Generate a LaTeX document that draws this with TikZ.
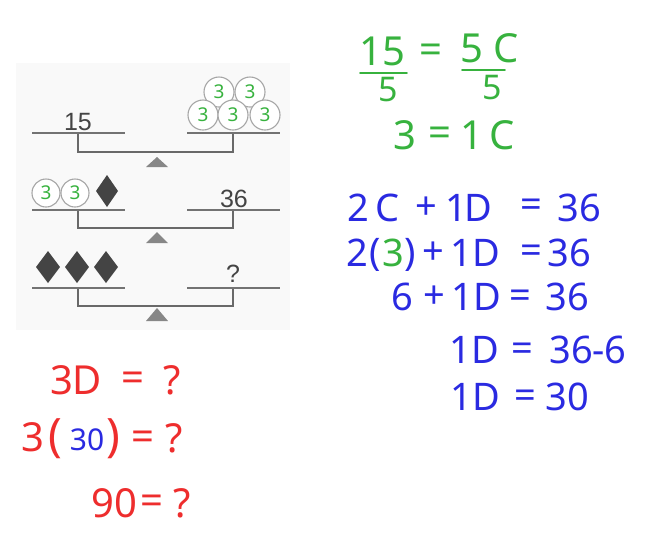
\documentclass[tikz,border=0pt]{standalone}
\usepackage{fontspec}
\setmainfont{Noto Sans}
\newfontfamily\arialf{Liberation Sans}
\definecolor{hgreen}{RGB}{55,178,62}
\definecolor{hblue}{RGB}{42,42,225}
\definecolor{hred}{RGB}{238,45,45}
\definecolor{sgray}{RGB}{105,105,105}
\definecolor{pangray}{RGB}{115,115,115}
\definecolor{trigray}{RGB}{135,135,135}
\definecolor{dgray}{RGB}{68,68,68}
\definecolor{bggray}{RGB}{249,249,249}
\tikzset{
  pan/.style={draw=pangray, line width=2.8pt},
  beam/.style={draw=sgray, line width=1.8pt},
  fulcrum/.style={fill=trigray},
  ball/.style={circle, draw=gray!70, line width=1.1pt, fill=white, minimum size=30pt, inner sep=0pt, text=hgreen, font=\fontsize{19}{19}\selectfont},
  sball/.style={ball, minimum size=28pt},
  dia/.style={fill=dgray},
  lbl/.style={inner sep=0pt, text=dgray, font=\arialf\fontsize{25}{25}\selectfont},
  hg/.style={inner sep=0pt, text=hgreen, font=\fontsize{40}{40}\selectfont},
  hgs/.style={hg, font=\fontsize{34}{34}\selectfont},
  hb/.style={inner sep=0pt, text=hblue, font=\fontsize{38}{38}\selectfont},
  hr/.style={inner sep=0pt, text=hred, font=\fontsize{40}{40}\selectfont},
  hrp/.style={hr, font=\fontsize{46}{46}\selectfont},
  fbar/.style={draw=hgreen, line width=1.6pt, line cap=round}
}
\begin{document}
\begin{tikzpicture}[x=1pt,y=-1pt]
\useasboundingbox (0,0) rectangle (661,539);
\fill[white] (0,0) rectangle (661,539);
\fill[bggray] (16,63) rectangle (290,330);

% ---------- scale 1 ----------
\draw[beam] (78,133) -- (78,152) -- (233,152) -- (233,133);
\draw[pan] (32,133) -- (125,133);
\draw[pan] (187,133) -- (280,133);
\fill[fulcrum] (146,167) -- (157,157) -- (168,167) -- cycle;
\node[lbl] (l15) at (78,122) {15};
\node[ball] (c1) at (219,92) {3};
\node[ball] (c2) at (250,92) {3};
\node[ball] (c3) at (203,115) {3};
\node[ball] (c4) at (233,115) {3};
\node[ball] (c5) at (265,115) {3};

% ---------- scale 2 ----------
\draw[beam] (78,210) -- (78,228) -- (233,228) -- (233,210);
\draw[pan] (32,210) -- (125,210);
\draw[pan] (187,210) -- (280,210);
\fill[fulcrum] (146,243) -- (157,232) -- (168,243) -- cycle;
\node[lbl] (l36) at (234,199) {36};
\node[sball] (c6) at (46,193) {3};
\node[sball] (c7) at (75,193) {3};
\fill[dia] (107,175) -- (118,191) -- (107,207) -- (96,191) -- cycle;

% ---------- scale 3 ----------
\draw[beam] (78,288) -- (78,306) -- (233,306) -- (233,288);
\draw[pan] (32,288) -- (125,288);
\draw[pan] (187,288) -- (280,288);
\fill[fulcrum] (146,321) -- (157,308) -- (168,321) -- cycle;
\node[lbl] (lq) at (233,274) {?};
\fill[dia] (48,251) -- (60,267) -- (48,283) -- (36,267) -- cycle;
\fill[dia] (77,251) -- (89,267) -- (77,283) -- (65,267) -- cycle;
\fill[dia] (106,251) -- (118,267) -- (106,283) -- (94,267) -- cycle;

% ---------- green work ----------
\node[hg] (g15) at (382,51) {15};
\draw[fbar] (360,73) -- (407,73);
\node[hgs] (g5a) at (388,90) {5};
\node[hg] (geq) at (431,54) {=};
\node[hg] (g5b) at (472,48) {5};
\node[hg] (gC) at (506,48) {C};
\draw[fbar] (462,70) -- (505,70);
\node[hgs] (g5c) at (492,88) {5};
\node[hg] (g3) at (405,135) {3};
\node[hg] (geq2) at (440,137) {=};
\node[hg] (g1) at (472,135) {1};
\node[hg] (gC2) at (502,135) {C};

% ---------- blue work ----------
\node[hb] (b12) at (358,208) {2};
\node[hb] (b1C) at (388,208) {C};
\node[hb] (b1p) at (426,208) {+};
\node[hb] (b11) at (456,208) {1};
\node[hb] (b1D) at (478,208) {D};
\node[hb] (b1e) at (531,208) {=};
\node[hb] (b136) at (579,208) {36};

\node[hb] (b22) at (357,253) {2};
\node[hb] (b2o) at (375,255) {(};
\node[hb, text=hgreen] (b23) at (393,253) {3};
\node[hb] (b2c) at (410,255) {)};
\node[hb] (b2p) at (433,253) {+};
\node[hb] (b21D) at (475,253) {1D};
\node[hb] (b2e) at (531,254) {=};
\node[hb] (b236) at (569,253) {36};

\node[hb] (b36) at (402,297) {6};
\node[hb] (b3p) at (434,297) {+};
\node[hb] (b31D) at (476,297) {1D};
\node[hb] (b3e) at (520,299) {=};
\node[hb] (b336) at (567,297) {36};

\node[hb] (b41D) at (474,350) {1D};
\node[hb] (b4e) at (522,352) {=};
\node[hb] (b4r) at (588,350) {36-6};

\node[hb] (b51D) at (475,397) {1D};
\node[hb] (b5e) at (525,399) {=};
\node[hb] (b530) at (567,397) {30};

% ---------- red work ----------
\node[hr] (r13) at (62,380) {3};
\node[hr] (r1D) at (87,380) {D};
\node[hr] (r1e) at (133,382) {=};
\node[hr] (r1q) at (172,380) {?};

\node[hr] (r23) at (33,437) {3};
\node[hrp] (r2o) at (55,439) {(};
\node[hb, font=\fontsize{30}{30}\selectfont] (r230) at (87,440) {30};
\node[hrp] (r2c) at (113,439) {)};
\node[hr] (r2e) at (143,441) {=};
\node[hr] (r2q) at (174,438) {?};

\node[hr] (r390) at (114,503) {90};
\node[hr] (r3e) at (152,505) {=};
\node[hr] (r3q) at (182,503) {?};
\end{tikzpicture}
\end{document}
